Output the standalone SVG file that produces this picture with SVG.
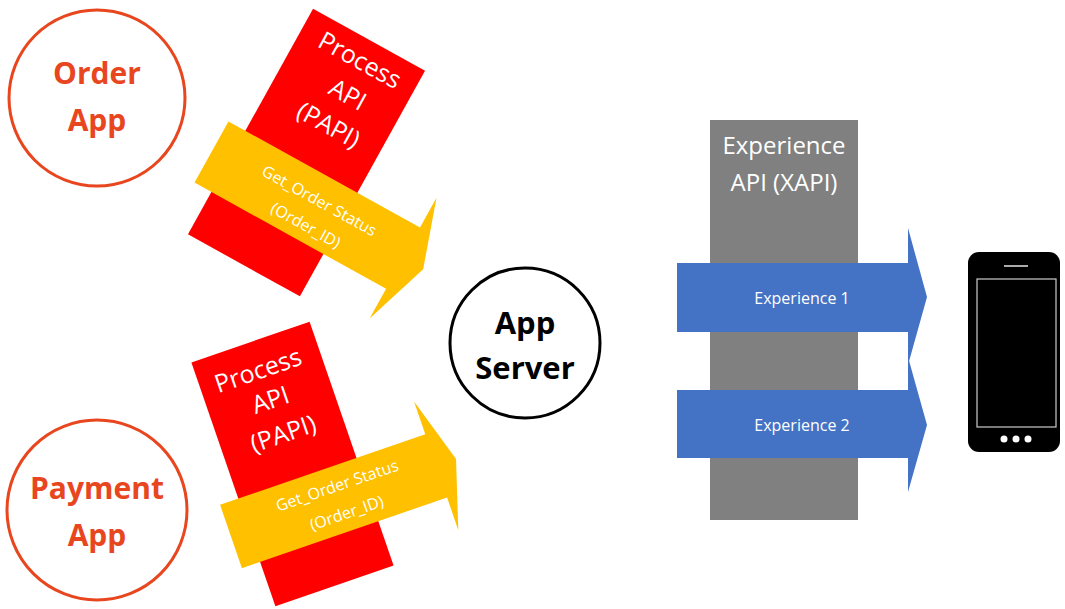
<svg xmlns="http://www.w3.org/2000/svg" width="1065" height="609" viewBox="0 0 1065 609">
<style>
.big{font-family:"Open Sans","Liberation Sans",sans-serif;fill:#fff;font-size:25px;text-anchor:middle}
.sm{font-family:"Open Sans","Liberation Sans",sans-serif;fill:#fff;font-size:16px;text-anchor:middle}
.app{font-family:"Open Sans","Liberation Sans",sans-serif;font-weight:bold;font-size:30px;text-anchor:middle;fill:#E8461E}
.srv{font-family:"Open Sans","Liberation Sans",sans-serif;font-weight:bold;font-size:31px;text-anchor:middle;fill:#000}
.red{fill:#FF0000}.yel{fill:#FFC000}.blue{fill:#4472C4}
</style>
<rect width="1065" height="609" fill="#fff"/>
<g id="order-app"><circle cx="97" cy="98" r="88" fill="none" stroke="#E8461E" stroke-width="3"/>
<text class="app" x="97" y="84">Order</text><text class="app" x="97" y="131">App</text></g>
<g id="payment-app"><circle cx="97" cy="510" r="90" fill="none" stroke="#E8461E" stroke-width="3"/>
<text class="app" x="97" y="499">Payment</text><text class="app" x="97" y="546">App</text></g>
<g id="papi-top" transform="translate(306.5,152.5) rotate(29)">
<rect class="red" x="-64" y="-129" width="128" height="258"/>
<text class="big" x="2" y="-98">Process</text><text class="big" x="8" y="-62">API</text><text class="big" x="6" y="-26">(PAPI)</text></g>
<g id="papi-bottom" transform="translate(292.5,464) rotate(-19)">
<rect class="red" x="-62.5" y="-129" width="125" height="258"/>
<text class="big" x="-2" y="-91">Process</text><text class="big" x="0" y="-59">API</text><text class="big" x="1" y="-23">(PAPI)</text></g>
<g id="connectors">
<g id="call-top" transform="translate(211.5,152) rotate(29)">
<polygon class="yel" points="0,-35 219,-35 219,-69 242,0 219,69 219,35 0,35"/>
<text class="sm" x="118" y="-4">Get_Order Status</text><text class="sm" x="118" y="24">(Order_ID)</text></g>
<g id="call-bottom" transform="translate(231,536.5) rotate(-19)">
<polygon class="yel" points="0,-33.5 217,-33.5 217,-68 238,0 217,68 217,33.5 0,33.5"/>
<text class="sm" x="117" y="-8">Get_Order Status</text><text class="sm" x="117" y="21">(Order_ID)</text></g>
</g>
<g id="app-server"><circle cx="525" cy="343" r="75" fill="#fff" stroke="#000" stroke-width="3"/>
<text class="srv" x="525" y="334">App</text><text class="srv" x="525" y="379">Server</text></g>
<g id="xapi"><rect x="710" y="120" width="148" height="400" fill="#808080"/>
<text class="big" x="784" y="154" style="font-size:24px">Experience</text><text class="big" x="784" y="191" style="font-size:24px">API (XAPI)</text></g>
<g id="exp1"><polygon class="blue" points="677,263 908,263 908,228 927,297 908,365 908,332 677,332"/>
<text class="sm" x="802" y="304">Experience 1</text></g>
<g id="exp2"><polygon class="blue" points="677,390 908,390 908,357 927,425 908,492 908,458 677,458"/>
<text class="sm" x="802" y="431">Experience 2</text></g>
<g id="phone"><rect x="968" y="252" width="92" height="200" rx="11" fill="#000"/>
<rect x="977" y="279" width="79" height="148" fill="none" stroke="#ccc" stroke-width="1.2"/>
<line x1="1004" y1="266" x2="1028" y2="266" stroke="#aaa" stroke-width="2"/>
<circle cx="1004" cy="439" r="3.5" fill="#fff"/><circle cx="1016" cy="439" r="3.5" fill="#fff"/><circle cx="1028" cy="439" r="3.5" fill="#fff"/></g>
</svg>
